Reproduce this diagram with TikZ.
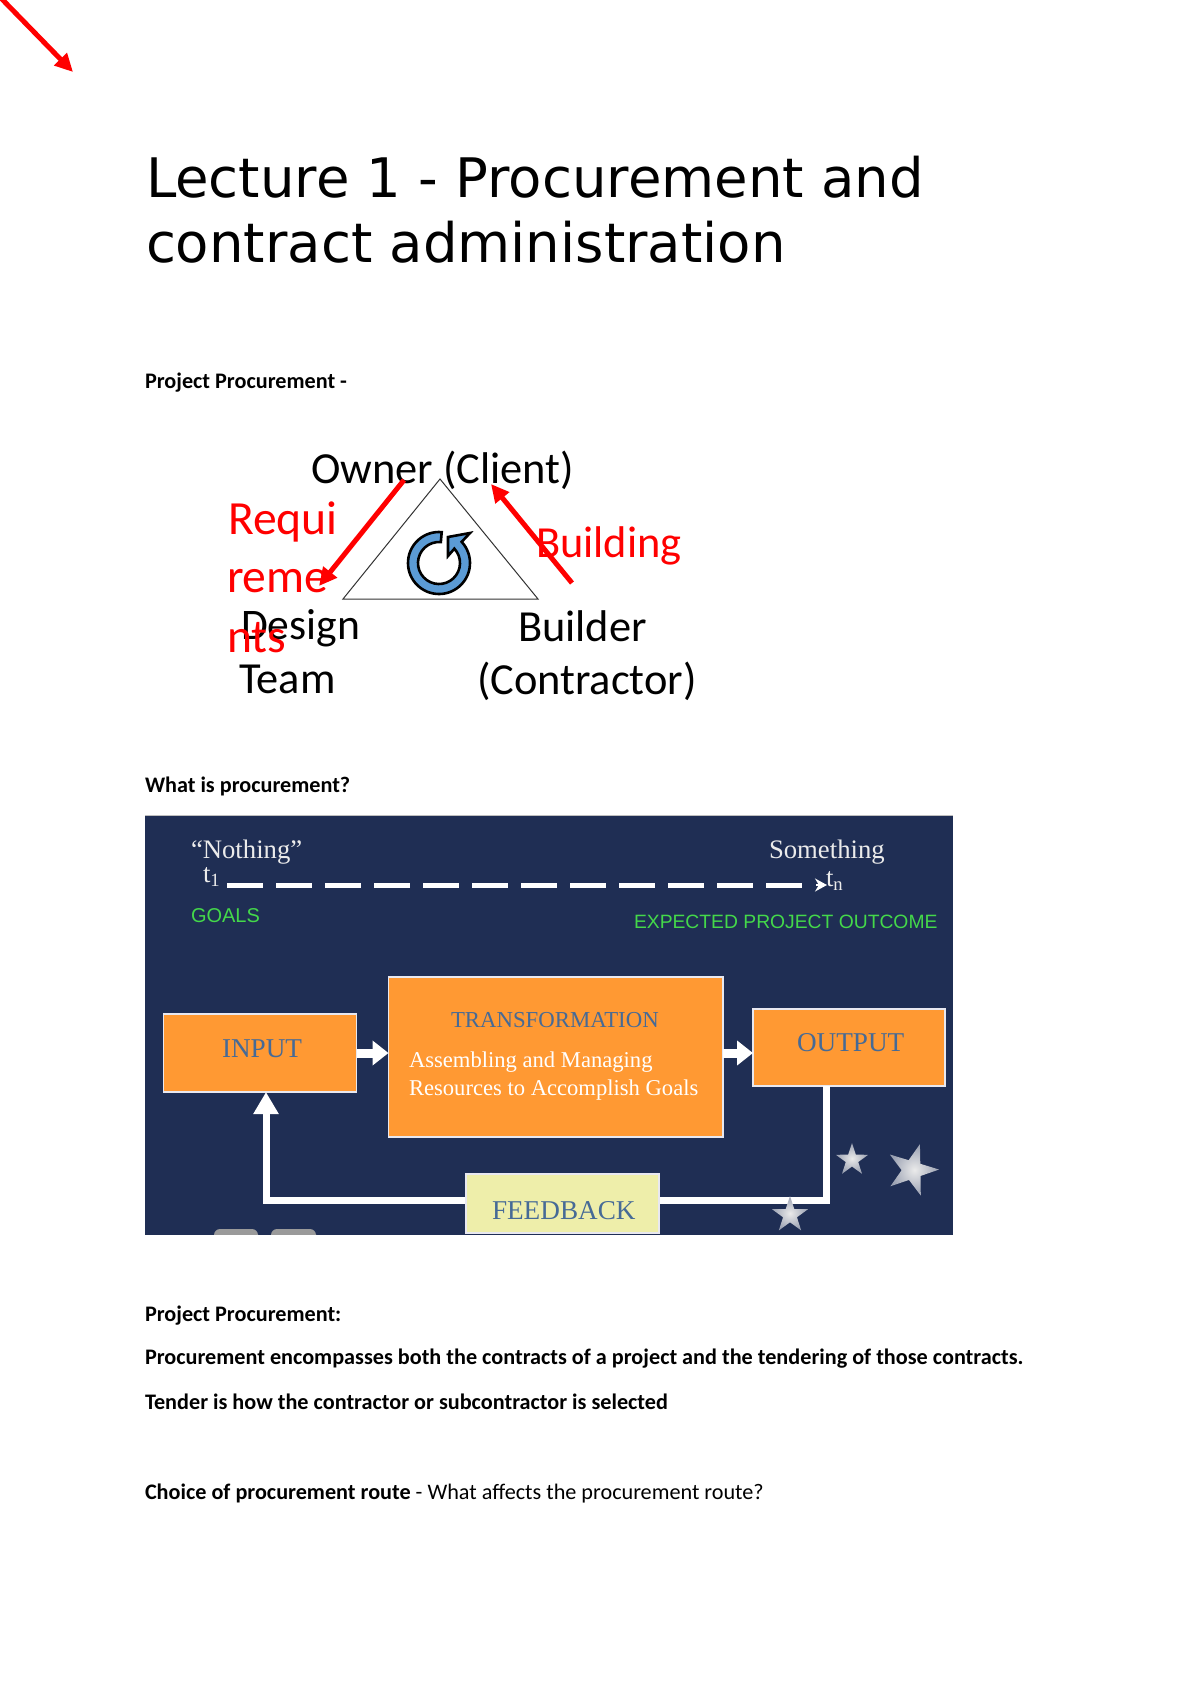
\documentclass[tikz,border=0pt]{standalone}
\usepackage{fontspec}
\setmainfont{Carlito}
\newfontfamily\titlefont{DejaVu Sans}
\newfontfamily\slidefont{Liberation Serif}
\newfontfamily\greenfont{Liberation Sans}
\usetikzlibrary{arrows.meta,calc,shapes.geometric}
\definecolor{slidebg}{HTML}{1F2E54}
\definecolor{boxorange}{HTML}{FF9933}
\definecolor{boxedge}{HTML}{E8E8F0}
\definecolor{boxblue}{HTML}{466A96}
\definecolor{fbfill}{HTML}{EEEEAA}
\definecolor{goalgreen}{HTML}{44D84A}
\definecolor{cyclefill}{HTML}{5B9BD5}
\definecolor{redmark}{HTML}{FF0000}
\definecolor{tabgrey}{HTML}{9A9A9A}
\tikzset{
 txt/.style={inner sep=0pt,outer sep=0pt,anchor=base west,align=left},
 titletext/.style={txt,font=\titlefont\fontsize{27.25}{32}\selectfont},
 bodybold/.style={txt,font=\bfseries\fontsize{11.1}{13}\selectfont},
 diagtext/.style={txt,font=\fontsize{22.2}{26}\selectfont},
 redtext/.style={txt,text=redmark,font=\fontsize{23.8}{28}\selectfont},
 redarrow/.style={draw=redmark,line width=2.5pt,-{Triangle[length=9pt,width=8.5pt]}},
 slidebox/.style={draw=boxedge,line width=0.6pt,fill=boxorange,inner sep=0pt,outer sep=0pt},
 boxlabel/.style={txt,text=boxblue,font=\slidefont\fontsize{13.6}{17}\selectfont},
 whitelabel/.style={txt,text=white,font=\slidefont\fontsize{11.3}{14}\selectfont},
 toplabel/.style={txt,text=white!92!black,font=\slidefont\fontsize{13.35}{15}\selectfont},
 greenlabel/.style={txt,text=goalgreen,font=\greenfont\fontsize{10}{12}\selectfont},
 blockarrow/.style={draw=white,line width=4.5pt,-{Triangle[length=8pt,width=12pt]}},
 starmark/.style={star,star points=5,star point ratio=2.6,inner sep=0pt,outer sep=0pt,draw=none,
   inner color=white!92!black,outer color=white!55!slidebg},
}
\begin{document}
\begin{tikzpicture}[x=0.5pt,y=-0.5pt]
\useasboundingbox (0,0) rectangle (1200,1698);
\fill[white] (0,0) rectangle (1200,1698);

% top-corner arrow
\coordinate (cornerA) at (-3,-6);
\coordinate (cornerB) at (73,72);
\draw[redarrow] (cornerA) -- (cornerB);

% title
\node[titletext] (title1) at (146,197) {Lecture 1 - Procurement and};
\node[titletext] (title2) at (146,262) {contract administration};
\node[bodybold] (pp1) at (145,388) {Project Procurement -};

% triangle
\coordinate (triTop) at (440,479);
\coordinate (triL) at (343,599);
\coordinate (triR) at (538,599);
\draw[line width=0.5pt,black!80] (triTop) -- (triL) -- (triR) -- cycle;

% cycle arrow
\coordinate (cyc) at (439,563);
\draw[draw=black,fill=cyclefill,line width=1.3pt,line join=miter]
  ($(cyc)+(85:15.5pt)$) arc[start angle=85,end angle=403,radius=15.5pt]
  -- (470,533) -- (448,537) -- (448,556)
  -- ($(cyc)+(403:10.5pt)$) arc[start angle=403,end angle=85,radius=10.5pt]
  -- cycle;

% diagram labels
\node[diagtext] (owner) at (311,483) {Owner (Client)};
\node[diagtext,font=\fontsize{21.8}{26}\selectfont] (design) at (241,639) {Design};
\node[diagtext] (team) at (239,693) {Team};
\node[diagtext] (builder) at (518,641) {Builder};
\node[diagtext] (contractor) at (477,694) {(Contractor)};

% red marks
\node[redtext] (req1) at (228,534) {Requi};
\node[redtext] (req2) at (227,592) {reme};
\node[redtext] (req3) at (227,652) {nts};
\node[redtext,font=\fontsize{22.2}{26}\selectfont] (bldg) at (536,557) {Building};
\coordinate (redA1) at (404,480);
\coordinate (redA2) at (319,586);
\coordinate (redB1) at (572,583);
\coordinate (redB2) at (491,484);
\draw[redarrow] (redA1) -- (redA2);
\draw[redarrow] (redB1) -- (redB2);

\node[bodybold] (what) at (145,792) {What is procurement?};

% slide
\fill[slidebg] (145,815) rectangle (953,1235);
\draw[line width=0.4pt,black!25!white] (145,815) -- (953,815);
\fill[tabgrey,rounded corners=3pt] (214,1240) -- (214,1229) -- (258,1229) -- (258,1240) -- cycle;
\fill[tabgrey,rounded corners=3pt] (271,1240) -- (271,1229) -- (316,1229) -- (316,1240) -- cycle;
\fill[white] (145,1235) rectangle (330,1245);

\node[toplabel] (nothing) at (191,858) {“Nothing”};
\node[toplabel] (something) at (769,858) {Something};
\node[toplabel] (t1) at (203,882) {t\textsubscript{1}};
\node[toplabel] (tn) at (826,886) {t\textsubscript{n}};
\coordinate (dashA) at (227,885);
\coordinate (dashB) at (802,885);
\coordinate (dashTip) at (827,885);
\draw[white,line width=2.5pt,dash pattern=on 18pt off 6.5pt] (dashA) -- (dashB);
\draw[white,line width=0.8pt,-{Stealth[length=6pt,width=6.5pt,fill=white]}] (816,885) -- (dashTip);
\node[greenlabel] (goals) at (191,922) {GOALS};
\node[greenlabel,font=\greenfont\fontsize{9.65}{12}\selectfont] (expected) at (634,928) {EXPECTED PROJECT OUTCOME};

% boxes
\path[slidebox] (163.5,1014) rectangle (356.5,1092);
\node[inner sep=0pt,outer sep=0pt,minimum width=96.5pt,minimum height=39pt] (input) at (260,1053) {};
\path[slidebox] (388.5,977) rectangle (723,1137);
\node[inner sep=0pt,outer sep=0pt,minimum width=167.25pt,minimum height=80pt] (trans) at (555.75,1057) {};
\path[slidebox] (753,1009) rectangle (945,1086);
\node[inner sep=0pt,outer sep=0pt,minimum width=96pt,minimum height=38.5pt] (output) at (849,1047.5) {};

\node[boxlabel] (inputl) at (222,1057) {INPUT};
\node[boxlabel] (outputl) at (797,1051) {OUTPUT};
\node[boxlabel,font=\slidefont\fontsize{11.4}{14}\selectfont] (transl) at (451,1027) {TRANSFORMATION};
\node[whitelabel] (as1) at (409,1067) {Assembling and Managing};
\node[whitelabel] (as2) at (409,1095) {Resources to Accomplish Goals};

% block arrows
\draw[blockarrow] (input.east) -- (trans.west |- input.east);
\draw[blockarrow] (trans.east |- input.east) -- (output.west |- input.east);

% feedback loop
\coordinate (fbR) at (826,1200);
\coordinate (fbL) at (266,1200);
\draw[draw=white,line width=3.5pt,-{Triangle[length=11pt,width=12pt]}]
  (output.south -| fbR) -- (fbR) -- (fbL) -- (input.south -| fbL);
\node[draw=boxedge,line width=0.6pt,fill=fbfill,inner sep=0pt,outer sep=0pt,minimum width=96.5pt,minimum height=29.5pt] (feedback) at (562.5,1203.5) {};
\node[boxlabel] (feedbackl) at (492,1219) {FEEDBACK};

% stars
\node[starmark,minimum size=17pt] (star1) at (852,1160) {};
\node[starmark,minimum size=27pt,rotate=-17] (star2) at (912,1170) {};
\node[starmark,minimum size=19pt] (star3) at (790,1215) {};
\fill[white] (700,1235) rectangle (953,1250);

% text below
\node[bodybold] (pp2) at (145,1321) {Project Procurement:};
\node[bodybold] (pp3) at (145,1364) {Procurement encompasses both the contracts of a project and the tendering of those contracts.};
\node[bodybold] (pp4) at (145,1409) {Tender is how the contractor or subcontractor is selected};
\node[bodybold] (pp5) at (145,1499) {Choice of procurement route \mdseries - What affects the procurement route?};
\end{tikzpicture}
\end{document}
